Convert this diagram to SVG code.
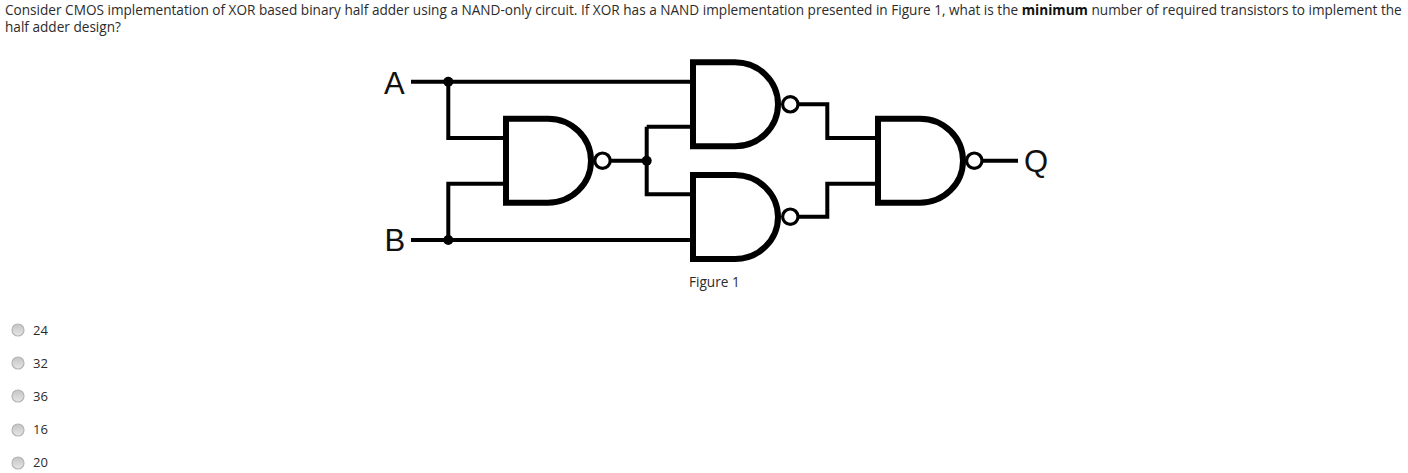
<svg xmlns="http://www.w3.org/2000/svg" width="1408" height="473" viewBox="0 0 1408 473">
<defs>
<linearGradient id="radio" x1="0" y1="0" x2="0" y2="1"><stop offset="0" stop-color="#c4c4c4"/><stop offset="1" stop-color="#e6e6e6"/></linearGradient>
<path id="nand" d="M0 0H42A43 42 0 0 1 42 84H0Z"/>
</defs>
<style>
.t{font-family:"Open Sans","Noto Sans",sans-serif;font-size:13.61px;fill:#2b2b2b}
.c{font-size:13.6px}
.n{font-size:13px}
.b{font-weight:700;fill:#111}
.l{font-family:"Liberation Sans",Arial,sans-serif;font-size:31px;fill:#111}
.w{fill:none;stroke:#000;stroke-width:4;stroke-linejoin:miter}
.g{fill:#fff;stroke:#000;stroke-width:6}
.o{fill:#fff;stroke:#000;stroke-width:3.2}
.r{fill:url(#radio);stroke:#b5b5b5;stroke-width:1.2}
</style>
<rect width="1408" height="473" fill="#fff"/>
<g id="question">
<text class="t" x="5" y="15">Consider CMOS implementation of XOR based binary half adder using a NAND-only circuit. If XOR has a NAND implementation presented in Figure 1, what is the <tspan class="b">minimum</tspan> number of required transistors to implement the</text>
<text class="t" x="5" y="32">half adder design?</text>
</g>
<g id="connectors">
<path class="w" d="M411 81.7H693M448.3 81.7V138H506M411 240H693M448.3 240V183.7H506"/>
<path class="w" d="M610 160.7H646.7M646.7 126.7H693M646.7 126.7V194.3H693"/>
<path class="w" d="M798 104.3H827.3V138H878M798 216.7H827.3V183.7H878M983 160.7H1018"/>
<circle cx="448.3" cy="81.7" r="5"/><circle cx="448.3" cy="240" r="5"/><circle cx="646.7" cy="160.7" r="5"/>
</g>
<g id="gate1"><use href="#nand" class="g" x="506" y="118.7"/><circle class="o" cx="602.5" cy="160.7" r="7.7"/></g>
<g id="gate2"><use href="#nand" class="g" x="693" y="62.3"/><circle class="o" cx="790.3" cy="104.3" r="7.7"/></g>
<g id="gate3"><use href="#nand" class="g" x="693" y="175"/><circle class="o" cx="790.3" cy="216.7" r="7.7"/></g>
<g id="gate4"><use href="#nand" class="g" x="878" y="118.7"/><circle class="o" cx="974.3" cy="160.7" r="7.7"/></g>
<g id="label-a"><text class="l" x="384" y="94">A</text></g>
<g id="label-b"><text class="l" x="384.5" y="251">B</text></g>
<g id="label-q"><text class="l" x="1024" y="172">Q</text></g>
<g id="caption"><text class="t c" x="689" y="287">Figure 1</text></g>
<g id="options">
<g id="opt24"><circle class="r" cx="18" cy="330" r="6"/><text class="t n" x="33" y="335">24</text></g>
<g id="opt32"><circle class="r" cx="18" cy="363" r="6"/><text class="t n" x="33" y="368">32</text></g>
<g id="opt36"><circle class="r" cx="18" cy="396" r="6"/><text class="t n" x="33" y="401">36</text></g>
<g id="opt16"><circle class="r" cx="18" cy="430" r="6"/><text class="t n" x="33" y="434">16</text></g>
<g id="opt20"><circle class="r" cx="18" cy="463" r="6"/><text class="t n" x="33" y="467">20</text></g>
</g>
</svg>
